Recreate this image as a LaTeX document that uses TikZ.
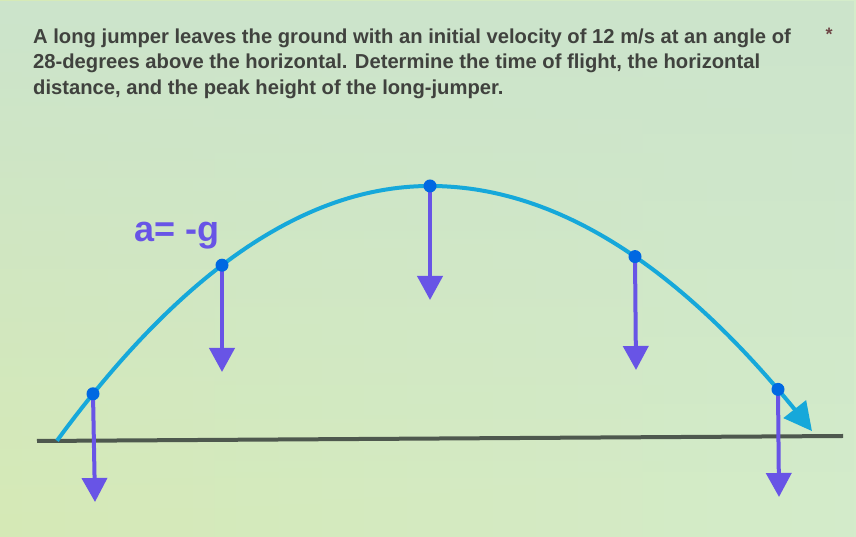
\documentclass[tikz,border=0pt]{standalone}
\usepackage{fontspec}
\setmainfont{Liberation Sans}
\usetikzlibrary{arrows.meta,fadings}
\definecolor{bgL}{RGB}{214,234,182}
\definecolor{bgR}{RGB}{212,236,202}
\definecolor{bgT}{RGB}{204,228,204}
\definecolor{txt}{RGB}{64,66,62}
\definecolor{star}{RGB}{110,70,70}
\definecolor{pathc}{RGB}{22,168,218}
\definecolor{dotc}{RGB}{0,104,226}
\definecolor{accc}{RGB}{104,84,230}
\definecolor{groundc}{RGB}{78,88,78}
\tikzfading[name=fadetop, top color=transparent!0, bottom color=transparent!100]
\tikzset{
  qline/.style={anchor=base west, inner sep=0pt, text=txt, font=\bfseries\fontsize{20.2}{24}\selectfont},
  traj/.style={draw=pathc, line width=4pt, -{Triangle[length=28pt,width=28pt]}},
  accarrow/.style={draw=accc, line width=4pt, -{Triangle[length=24pt,width=25pt]}},
  pdot/.style={circle, fill=dotc, inner sep=0pt, minimum size=13pt},
  ground/.style={draw=groundc, line width=4pt}
}
\begin{document}
\begin{tikzpicture}[x=1pt,y=1pt]
\useasboundingbox (0,0) rectangle (856,537);
\fill[left color=bgL, right color=bgR] (0,0) rectangle (856,537);
\fill[bgT, path fading=fadetop] (0,0) rectangle (856,537);
% question text
\node[qline] (l1) at (33,493) {A long jumper leaves the ground with an initial velocity of 12 m/s at an angle of};
\node[qline] (l2) at (33,468) {28-degrees above the horizontal. Determine the time of flight, the horizontal};
\node[qline] (l3) at (33,442) {distance, and the peak height of the long-jumper.};
\node[text=star, inner sep=0pt, font=\bfseries\fontsize{18}{20}\selectfont] (st) at (829,503) {*};
% ground
\coordinate (gL) at (37,96);
\coordinate (gR) at (843,101);
\draw[ground] (gL) -- (gR);
% trajectory points (on the drawn curve)
\coordinate (p1) at (93,143.2);
\coordinate (p2) at (222,271.8);
\coordinate (p3) at (430,351);
\coordinate (p4) at (635,280.4);
\coordinate (p5) at (778,147.6);
\draw[traj] plot[domain=57:430, samples=60] (\x, {351-((\x-430)*0.04278)^2})
  -- plot[domain=430:812, samples=60] (\x, {351-((\x-430)*0.040988)^2});
% acceleration arrows
\coordinate (t1) at (95,35);
\coordinate (t2) at (222,165);
\coordinate (t3) at (430,237);
\coordinate (t4) at (636,167);
\coordinate (t5) at (779,40);
\draw[accarrow] (p1) -- (t1);
\draw[accarrow] (p2) -- (t2);
\draw[accarrow] (p3) -- (t3);
\draw[accarrow] (p4) -- (t4);
\draw[accarrow] (p5) -- (t5);
\node[pdot] (d1) at (p1) {};
\node[pdot] (d2) at (p2) {};
\node[pdot] (d3) at (p3) {};
\node[pdot] (d4) at (p4) {};
\node[pdot] (d5) at (p5) {};
\node[anchor=base, inner sep=0pt, text=accc, font=\bfseries\fontsize{36}{38}\selectfont] (lab) at (177,295) {a= -g};
\end{tikzpicture}
\end{document}
